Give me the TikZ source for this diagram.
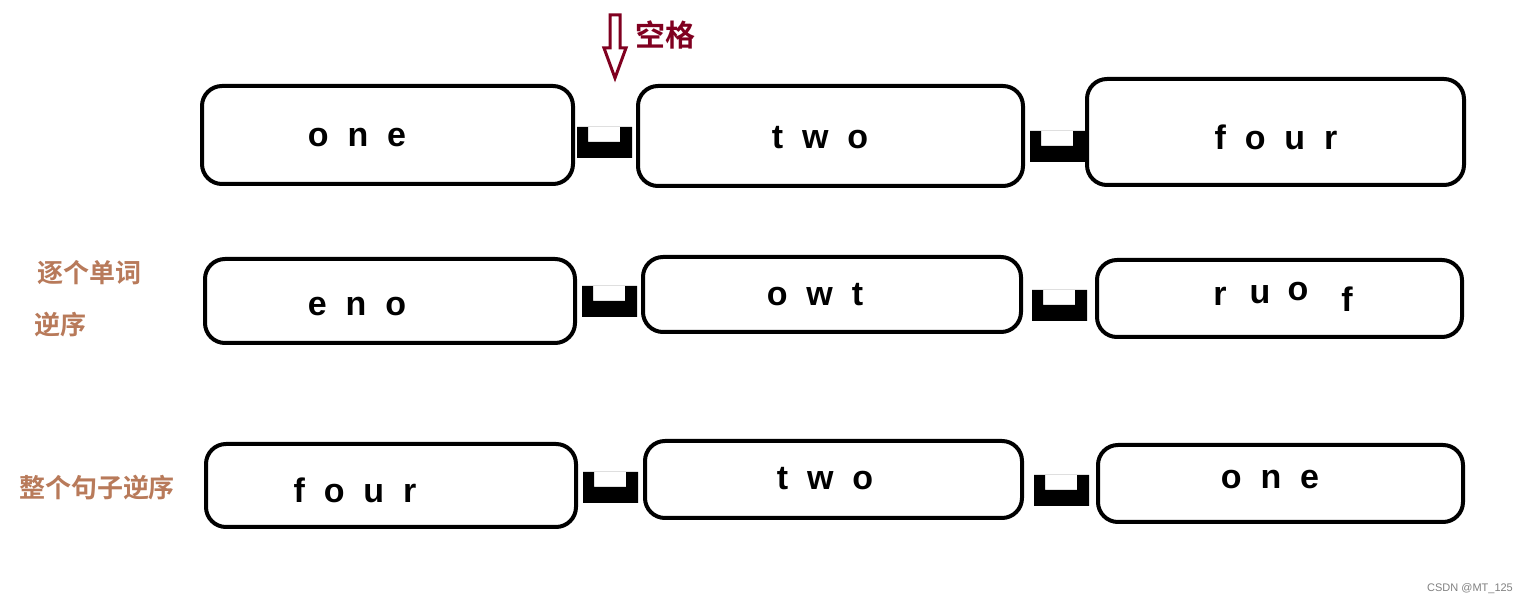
\documentclass[tikz,border=0pt]{standalone}
\usepackage{fontspec}
\setmainfont{Liberation Sans}
\newfontfamily\cjk{Noto Sans CJK SC}[BoldFont={* Bold}]
\begin{document}
\begin{tikzpicture}[x=0.5pt,y=-0.5pt,
  box/.style={draw,line width=2pt,rounded corners=10pt},
  word/.style={font=\fontsize{17}{20}\selectfont\bfseries},
  lab/.style={font=\cjk\bfseries\fontsize{13}{16}\selectfont,text=brown!70!orange!80!black,inner sep=0pt},
  sp/.style={fill=black}]
\definecolor{lbl}{HTML}{B87A5A}
\definecolor{dred}{HTML}{800020}
\useasboundingbox (0,0) rectangle (1528,604);
\newcommand\spc[2]{\fill[even odd rule] (#1,#2) rectangle ++(55,31) (#1+11,#2) rectangle ++(32,15);}
% row 1
\draw[box] (202,86) rectangle (573,184); \node[word] (a1) at (357,138) {o\ \ n\ \ e};
\draw[box] (638,86) rectangle (1023,186); \node[word] (b1) at (820,138) {t\ \ w\ \ o};
\draw[box] (1087,79) rectangle (1464,185); \node[word] (c1) at (1276,137) {f\ \ o\ \ u\ \ r};
\spc{577}{127}\spc{1030}{131}
% row 2
\draw[box] (205,259) rectangle (575,343); \node[word] (a2) at (357,307) {e\ \ n\ \ o};
\draw[box] (643,257) rectangle (1021,332); \node[word] (b2) at (815,295) {o\ \ w\ \ t};
\draw[box] (1097,260) rectangle (1462,337);
\node[word] (r) at (1220,296) {r}; \node[word] (u) at (1260,295) {u};
\node[word] (o) at (1298,292) {o}; \node[word] (f) at (1347,299) {f};
\spc{582}{286}\spc{1032}{290}
% row 3
\draw[box] (206,444) rectangle (576,527); \node[word] (a3) at (355,490) {f\ \ o\ \ u\ \ r};
\draw[box] (645,441) rectangle (1022,518); \node[word] (b3) at (825,479) {t\ \ w\ \ o};
\draw[box] (1098,445) rectangle (1463,522); \node[word] (c3) at (1270,480) {o\ \ n\ \ e};
\spc{583}{472}\spc{1034}{475}
% labels
\node[lab,text=lbl] (l1) at (90,273) {逐个单词};
\node[lab,text=lbl] (l2) at (60,325) {逆序};
\node[lab,text=lbl] (l3) at (97,488) {整个句子逆序};
\node[lab,text=dred,font=\cjk\bfseries\fontsize{15}{18}\selectfont] (k) at (665,35) {空格};
\draw[dred,line width=1.5pt,line join=miter] (610,15) -- (620,15) -- (620,48) -- (626,48) -- (615,78) -- (604,48) -- (610,48) -- cycle;
\node[text=gray,font=\fontsize{5.5}{7}\selectfont] (w) at (1470,589) {CSDN @MT\_125};
\end{tikzpicture}
\end{document}
